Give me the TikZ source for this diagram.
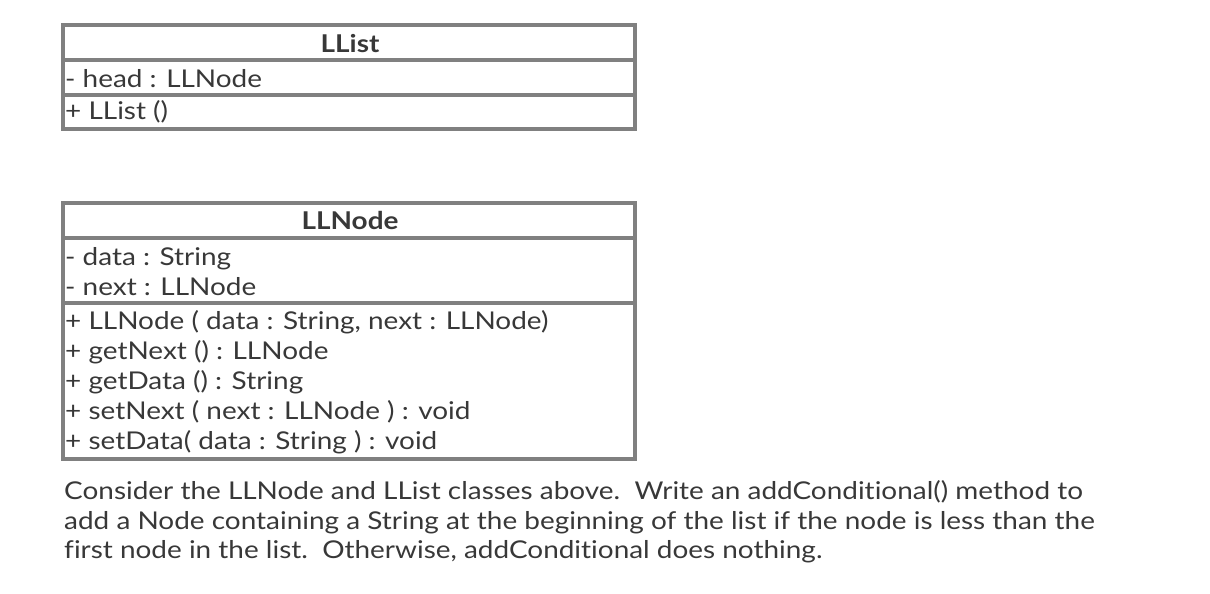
\documentclass[tikz,border=0pt]{standalone}
\usepackage{fontspec}
\setmainfont{Lato}[FakeStretch=1.14, Ligatures=NoCommon]
\definecolor{umlgray}{HTML}{808080}
\definecolor{textgray}{HTML}{383838}
\usetikzlibrary{positioning}

\begin{document}
\begin{tikzpicture}[x=1pt, y=-1pt,
  part/.style={rectangle, draw=umlgray, line width=4pt, minimum width=571.5pt, outer sep=0pt, inner sep=0pt},
  member/.style={anchor=base west, inner sep=0pt, text=textgray, font=\fontsize{24.5}{30}\selectfont},
  classname/.style={member, anchor=base, font=\fontsize{24.5}{30}\selectfont\bfseries}]
\useasboundingbox (0,0) rectangle (1210,594);
% LList class
\node[part, minimum height=35.5pt] (listtitle) at (348.75,42.75) {};
\node[part, minimum height=34.5pt, below=0pt of listtitle] (listattr) {};
\node[part, minimum height=34pt, below=0pt of listattr] (listops) {};
\node[classname] (listname) at (350,53) {LList};
\node[member] (head) at (65,88) {- head : LLNode};
\node[member] (listctor) at (65,119) {+ LList ()};
% LLNode class
\node[part, minimum height=35pt] (nodetitle) at (348.75,220.5) {};
\node[part, minimum height=65pt, below=0pt of nodetitle] (nodeattr) {};
\node[part, minimum height=155.5pt, below=0pt of nodeattr] (nodeops) {};
\node[classname] (nodename) at (350,229) {LLNode};
\node[member] (data) at (65,265.5) {- data : String};
\node[member] (next) at (65,295) {- next : LLNode};
\node[member] (nodector) at (65,329.5) {+ LLNode ( data : String, next : LLNode)};
\node[member] (getnext) at (65,359.5) {+ getNext () : LLNode};
\node[member] (getdata) at (65,389.5) {+ getData () : String};
\node[member] (setnext) at (65,419.5) {+ setNext ( next : LLNode ) : void};
\node[member] (setdata) at (65,449.5) {+ setData( data : String ) : void};
% question text
\node[member] (para1) at (64,499.5) {Consider the LLNode and LList classes above.\ \ Write an addConditional() method to};
\node[member] (para2) at (64,529) {add a Node containing a String at the beginning of the list if the node is less than the};
\node[member] (para3) at (64,558.5) {first node in the list.\ \ Otherwise, addConditional does nothing.};
\end{tikzpicture}
\end{document}
